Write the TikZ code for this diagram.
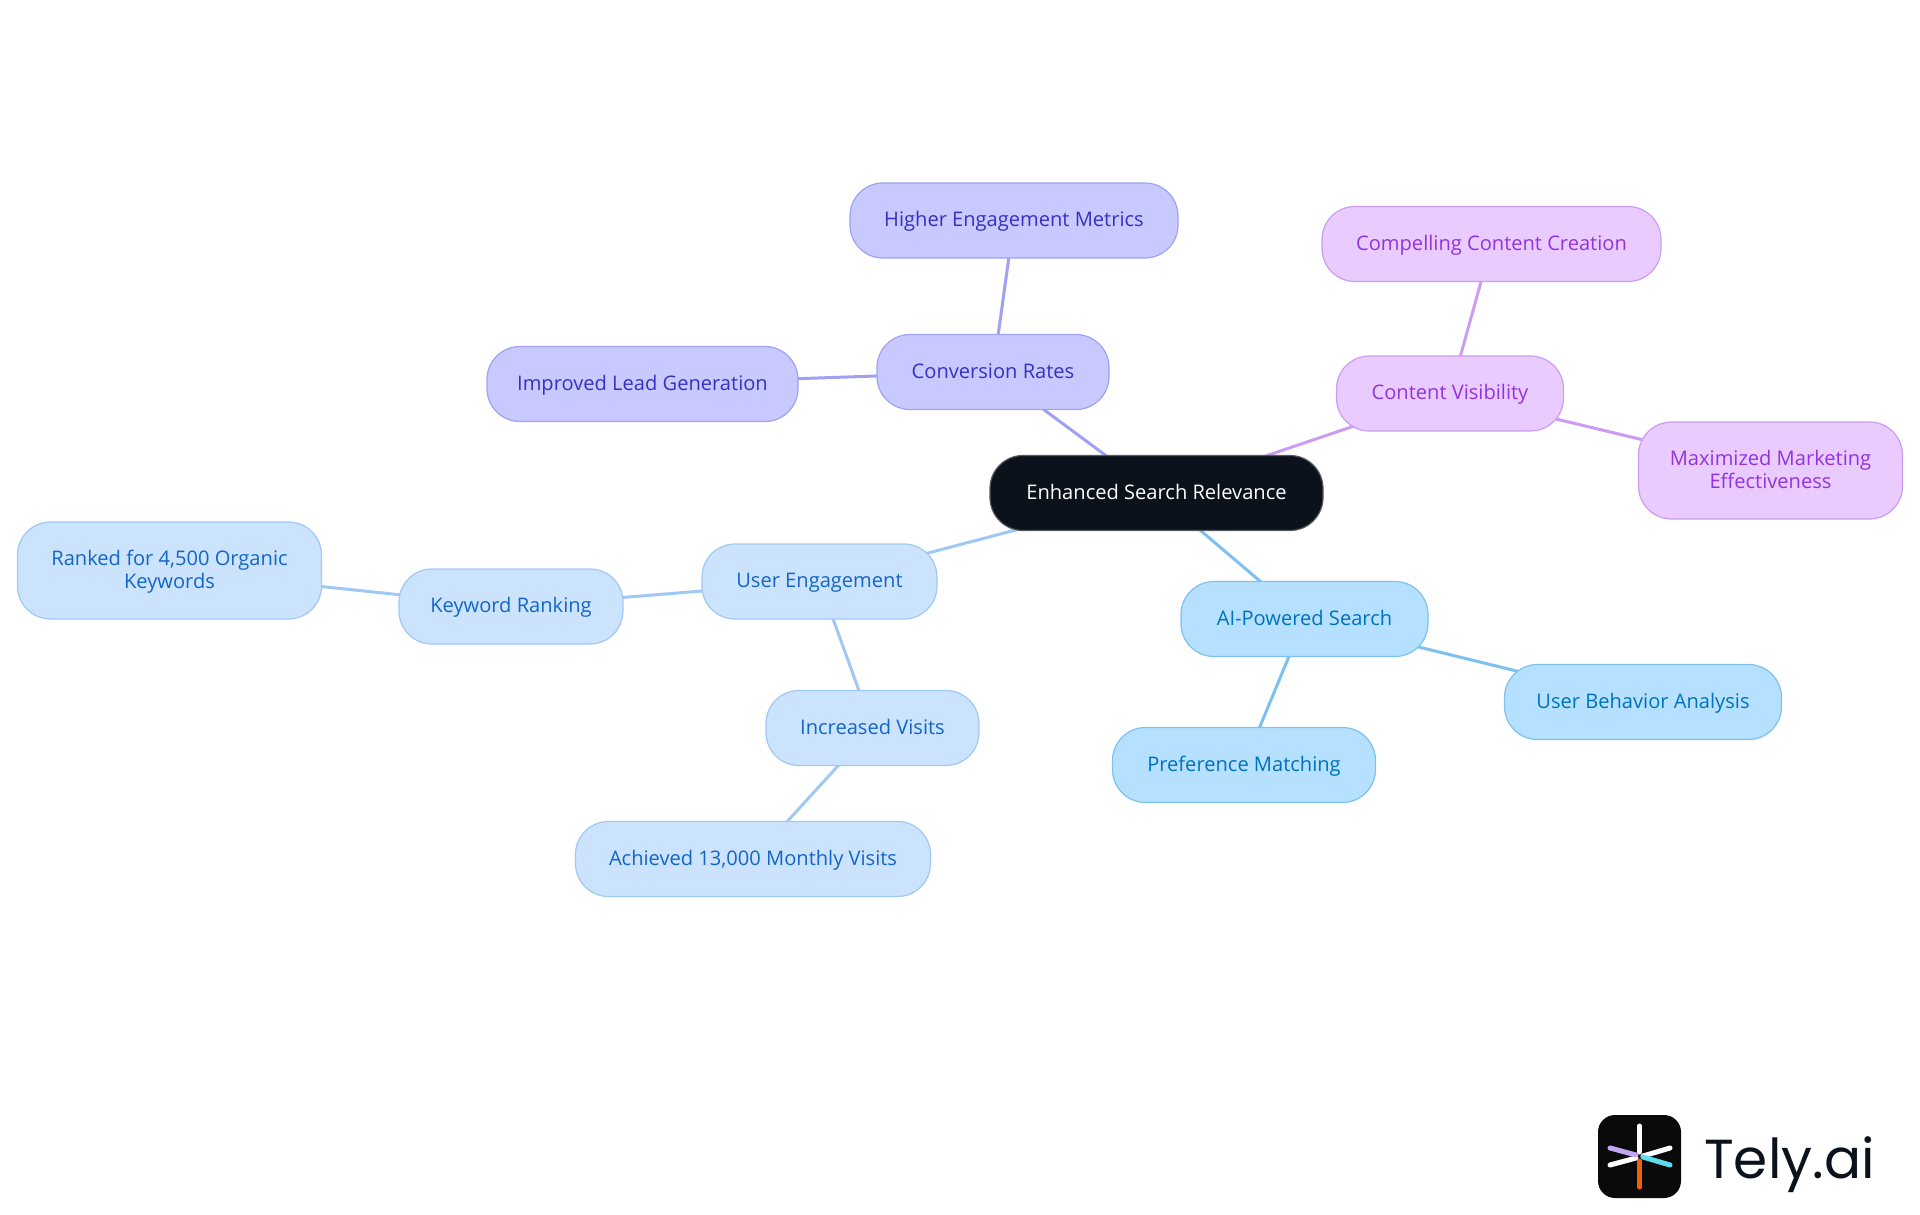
\documentclass[tikz,border=0pt]{standalone}
\usepackage{fontspec}
\setmainfont{Open Sans}
\newfontfamily\brandfont{Poppins}
\usetikzlibrary{backgrounds}
\definecolor{rootfill}{HTML}{0B121B}
\definecolor{rootline}{HTML}{555A60}
\definecolor{bluefill}{HTML}{CCE3FD}
\definecolor{blueline}{HTML}{A0C8F4}
\definecolor{bluetext}{HTML}{1366C8}
\definecolor{skyfill}{HTML}{B5E0FF}
\definecolor{skyline}{HTML}{7CC1F0}
\definecolor{skytext}{HTML}{0072BC}
\definecolor{indfill}{HTML}{C8CAFF}
\definecolor{indline}{HTML}{A0A0F5}
\definecolor{indtext}{HTML}{3730C4}
\definecolor{purfill}{HTML}{E9CBFF}
\definecolor{purline}{HTML}{CB9CF2}
\definecolor{purtext}{HTML}{9333DD}
\tikzset{
  mm/.style={rounded corners=33pt,line width=1.2pt,align=center,inner sep=0pt,minimum height=75pt,
    text height=16.5pt,text depth=4pt,
    font=\fontsize{20.1}{23}\selectfont},
  twolines/.style={minimum height=97pt,text height=40pt,text depth=4pt},
  rootbox/.style={mm,fill=rootfill,draw=rootline,text=white},
  bluebox/.style={mm,fill=bluefill,draw=blueline,text=bluetext},
  skybox/.style={mm,fill=skyfill,draw=skyline,text=skytext},
  indbox/.style={mm,fill=indfill,draw=indline,text=indtext},
  purbox/.style={mm,fill=purfill,draw=purline,text=purtext},
  link/.style={line width=3pt},
}
\begin{document}
\begin{tikzpicture}[x=1pt,y=-1pt]
\useasboundingbox (0,0) rectangle (1920,1215);
\node[rootbox,minimum width=333pt] (root) at (1156.5,493) {Enhanced Search Relevance};
\node[indbox,minimum width=328pt] (hem) at (1014,220.5) {Higher Engagement Metrics};
\node[indbox,minimum width=232pt] (cr) at (993,372) {Conversion Rates};
\node[indbox,minimum width=311pt] (ilg) at (642.5,384) {Improved Lead Generation};
\node[purbox,minimum width=339pt] (ccc) at (1491.5,244) {Compelling Content Creation};
\node[purbox,minimum width=227pt] (cv) at (1450,393.5) {Content Visibility};
\node[purbox,twolines,minimum width=264pt] (mme) at (1770.5,470.5) {Maximized Marketing\\Effectiveness};
\node[bluebox,minimum width=235pt] (ue) at (819.5,581.5) {User Engagement};
\node[bluebox,minimum width=224pt] (kr) at (511,606.5) {Keyword Ranking};
\node[bluebox,twolines,minimum width=304pt] (rank) at (169.5,570.5) {Ranked for 4,500 Organic\\Keywords};
\node[bluebox,minimum width=213pt] (iv) at (872.5,728) {Increased Visits};
\node[bluebox,minimum width=355pt] (amv) at (753,859) {Achieved 13,000 Monthly Visits};
\node[skybox,minimum width=247pt] (ai) at (1304.5,619) {AI-Powered Search};
\node[skybox,minimum width=277pt] (uba) at (1643,702) {User Behavior Analysis};
\node[skybox,minimum width=263pt] (pm) at (1244,765) {Preference Matching};
\begin{scope}[on background layer]
\draw[link,draw=indline] (root.center) -- (cr.center);
\draw[link,draw=indline] (cr.center) -- (hem.center);
\draw[link,draw=indline] (cr.center) -- (ilg.center);
\draw[link,draw=purline] (root.center) -- (cv.center);
\draw[link,draw=purline] (cv.center) -- (ccc.center);
\draw[link,draw=purline] (cv.center) -- (mme.center);
\draw[link,draw=blueline] (root.center) -- (ue.center);
\draw[link,draw=blueline] (ue.center) -- (kr.center);
\draw[link,draw=blueline] (kr.center) -- (rank.center);
\draw[link,draw=blueline] (ue.center) -- (iv.center);
\draw[link,draw=blueline] (iv.center) -- (amv.center);
\draw[link,draw=skyline] (root.center) -- (ai.center);
\draw[link,draw=skyline] (ai.center) -- (uba.center);
\draw[link,draw=skyline] (ai.center) -- (pm.center);
\end{scope}
% logo
\fill[black!96,rounded corners=17pt] (1598,1115) rectangle (1681,1198);
\begin{scope}[line width=5pt,line cap=round]
\draw[white] (1639.5,1152) -- (1639.5,1126);
\draw[white] (1636,1158) -- (1610,1165);
\draw[white] (1643,1156) -- (1670,1148);
\draw[color={rgb,255:red,193;green,168;blue,240}] (1636,1155) -- (1610,1148);
\draw[color={rgb,255:red,92;green,220;blue,238}] (1643,1157) -- (1670,1165);
\draw[color={rgb,255:red,240;green,98;blue,10}] (1639.5,1161) -- (1639.5,1187);
\end{scope}
\node[anchor=base west,inner sep=0pt,text=rootfill,font=\brandfont\fontsize{55}{55}\selectfont] (brand) at (1704,1178) {Tely.ai};
\end{tikzpicture}
\end{document}
